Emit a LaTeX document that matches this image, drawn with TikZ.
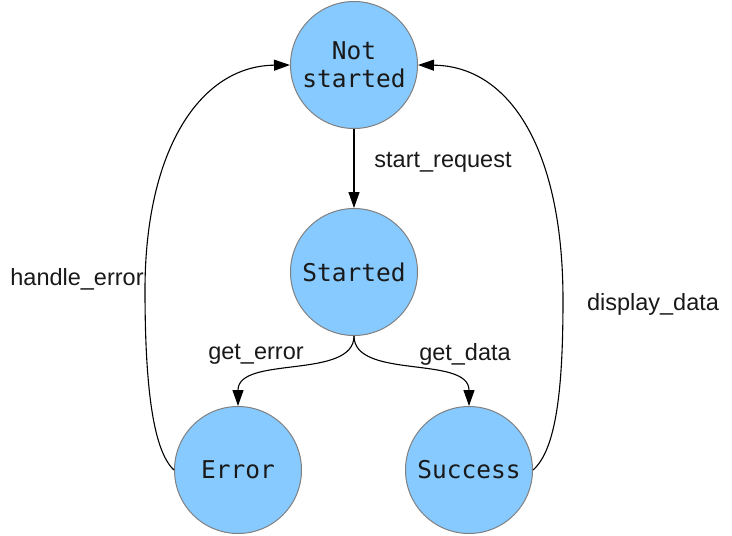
\documentclass[tikz,border=0pt]{standalone}
\usepackage{fontspec}
\setmainfont{Liberation Sans}
\setmonofont{DejaVu Sans Mono}
\usetikzlibrary{arrows.meta}
\definecolor{stfill}{RGB}{135,202,255}
\definecolor{stline}{RGB}{128,128,128}
\tikzset{
  state/.style={circle, minimum size=127pt, inner sep=0pt, fill=stfill, draw=stline, line width=1pt,
    font=\ttfamily\fontsize{24.5}{28}\selectfont, align=center, text=black!90},
  trans/.style={draw=black, line width=1.1pt, -{Triangle[length=16pt,width=11pt]}},
  lbl/.style={font=\fontsize{23.5}{26}\selectfont, text=black!90, inner sep=0pt}
}
\begin{document}
\begin{tikzpicture}[x=1pt,y=-1pt]
\useasboundingbox (0,0) rectangle (732,536);
\node[state] (ns) at (354,65) {Not\\started};
\node[state] (st) at (354,272) {Started};
\node[state] (er) at (238,470) {Error};
\node[state] (su) at (469,470) {Success};

\draw[trans] (ns.south) -- (st.north);
\draw[trans] (st.south) .. controls (354,380) and (238,355) .. (er.north);
\draw[trans] (st.south) .. controls (354,380) and (469,355) .. (su.north);
\coordinate (lm) at (145,290);
\coordinate (rm) at (563,300);
\draw[trans] (er.west) .. controls (152,450) and (145,380) .. (lm) .. controls (145,150) and (200,66) .. (ns.west);
\draw[trans] (su.east) .. controls (556,450) and (563,390) .. (rm) .. controls (563,150) and (510,66) .. (ns.east);

\node[lbl] (l1) at (443,162) {start\_request};
\node[lbl] (l2) at (77,279) {handle\_error};
\node[lbl] (l3) at (653,304) {display\_data};
\node[lbl] (l4) at (256,354) {get\_error};
\node[lbl] (l5) at (465,354) {get\_data};
\end{tikzpicture}
\end{document}
